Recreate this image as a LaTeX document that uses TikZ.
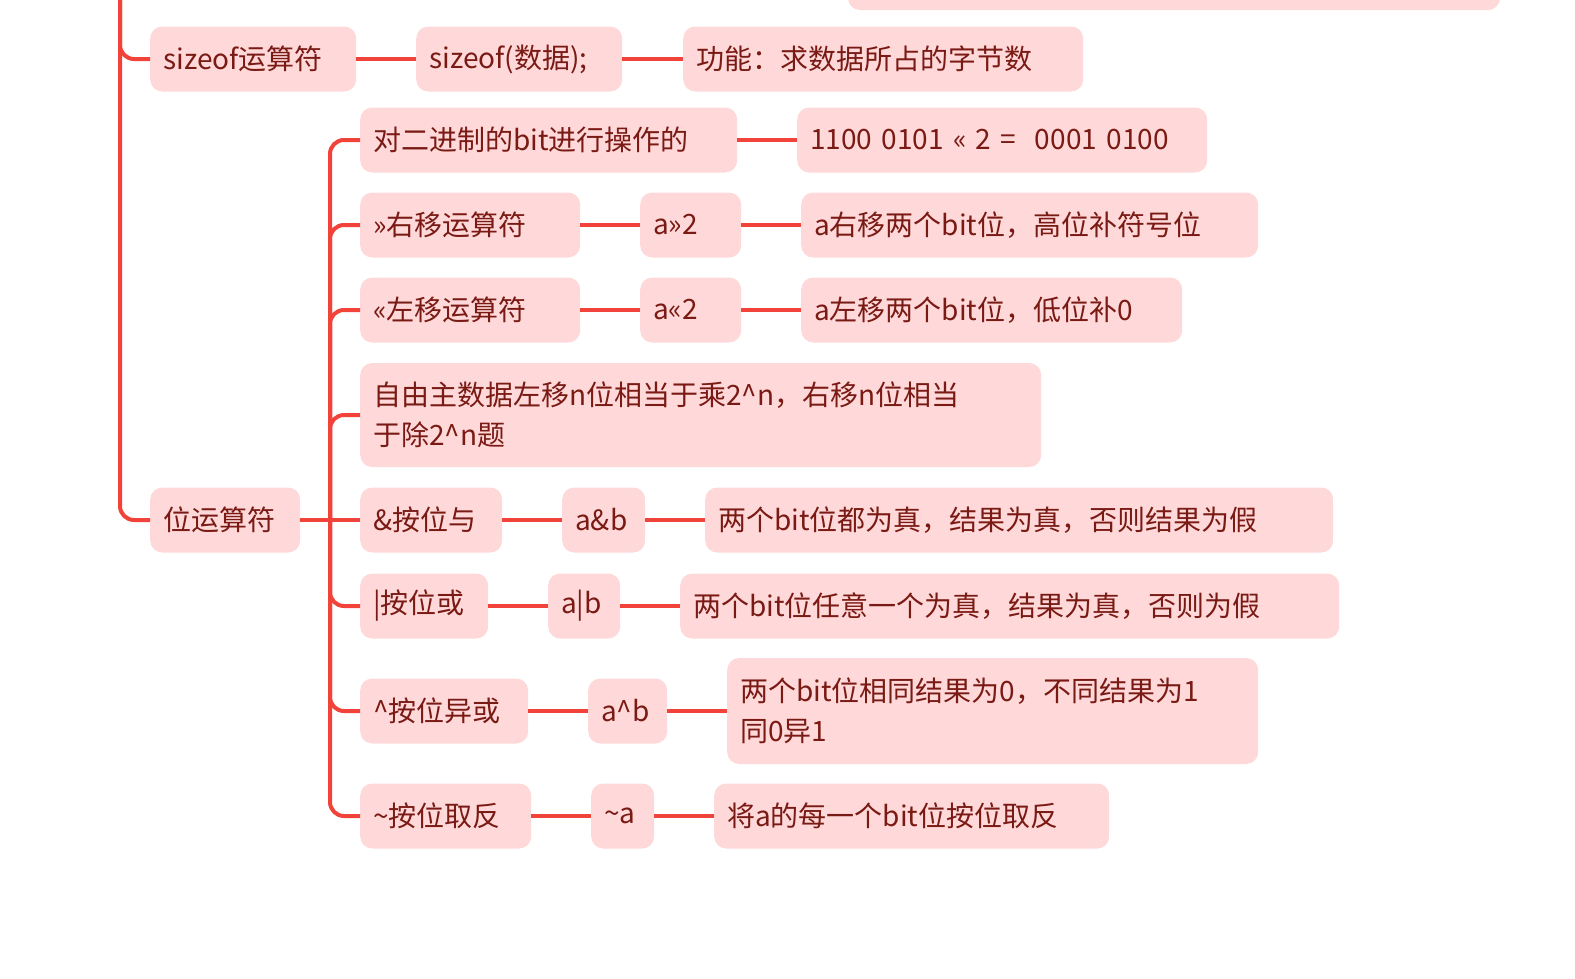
\documentclass[tikz,border=0pt]{standalone}
\usepackage{fontspec}
\setmainfont{Noto Sans CJK SC}
\definecolor{boxfill}{HTML}{FFD9D9}
\definecolor{txt}{HTML}{7A1A14}
\definecolor{ln}{HTML}{F2433B}
\tikzset{
 box/.style={fill=boxfill, rounded corners=12pt, anchor=west, inner xsep=13pt, inner ysep=0pt,
   text=txt, align=left, font=\fontsize{28}{40}\selectfont, minimum height=65pt},
 conn/.style={draw=ln, line width=4pt, rounded corners=14pt}
}
\newcommand{\bx}[5]{\node[box, text width=#3-26pt, minimum height=#4] (#1) at (#2) {#5};}
\begin{document}
\begin{tikzpicture}[x=1pt,y=-1pt]
\useasboundingbox (0,0) rectangle (1575,978);
\fill[boxfill, rounded corners=12pt] (848,-40) rectangle (1500,10);
\bx{sz}{150,59}{206pt}{65pt}{sizeof运算符}
\bx{szd}{416,59}{206pt}{65pt}{sizeof(数据);}
\bx{szf}{683,59}{400pt}{65pt}{功能：求数据所占的字节数}
\bx{bit}{150,520}{150pt}{65pt}{位运算符}
\bx{c1}{360,140}{377pt}{65pt}{对二进制的bit进行操作的}
\bx{c1a}{797,140}{410pt}{65pt}{1100 0101 << 2 =\ \ 0001 0100}
\bx{c2}{360,225}{220pt}{65pt}{>>右移运算符}
\bx{c2a}{640,225}{101pt}{65pt}{a>>2}
\bx{c2b}{801,225}{457pt}{65pt}{a右移两个bit位，高位补符号位}
\bx{c3}{360,310}{220pt}{65pt}{<<左移运算符}
\bx{c3a}{640,310}{101pt}{65pt}{a<<2}
\bx{c3b}{801,310}{381pt}{65pt}{a左移两个bit位，低位补0}
\bx{c4}{360,415}{681pt}{104pt}{自由主数据左移n位相当于乘2\^{}n，右移n位相当\\于除2\^{}n题}
\bx{c5}{360,520}{142pt}{65pt}{\&按位与}
\bx{c5a}{562,520}{83pt}{65pt}{a\&b}
\bx{c5b}{705,520}{628pt}{65pt}{两个bit位都为真，结果为真，否则结果为假}
\bx{c6}{360,606}{128pt}{65pt}{|按位或}
\bx{c6a}{548,606}{72pt}{65pt}{a|b}
\bx{c6b}{680,606}{659pt}{65pt}{两个bit位任意一个为真，结果为真，否则为假}
\bx{c7}{360,711}{168pt}{65pt}{\^{}按位异或}
\bx{c7a}{588,711}{79pt}{65pt}{a\^{}b}
\bx{c7b}{727,711}{531pt}{106pt}{两个bit位相同结果为0，不同结果为1\\同0异1}
\bx{c8}{360,816}{171pt}{65pt}{\textasciitilde 按位取反}
\bx{c8a}{591,816}{63pt}{65pt}{\textasciitilde a}
\bx{c8b}{714,816}{395pt}{65pt}{将a的每一个bit位按位取反}
\coordinate (top) at (120,-5);
\draw[conn] (top) |- (sz.west);
\draw[conn] (top) |- (bit.west);
\draw[conn] (sz) -- (szd); \draw[conn] (szd) -- (szf);
\coordinate (j) at (330,520);
\draw[conn] (bit.east) -- (c5.west);
\foreach \c in {c1,c2,c3,c4,c6,c7,c8} {\draw[conn] (j) |- (\c.west);}
\draw[conn] (c1) -- (c1a);
\draw[conn] (c2) -- (c2a); \draw[conn] (c2a) -- (c2b);
\draw[conn] (c3) -- (c3a); \draw[conn] (c3a) -- (c3b);
\draw[conn] (c5) -- (c5a); \draw[conn] (c5a) -- (c5b);
\draw[conn] (c6) -- (c6a); \draw[conn] (c6a) -- (c6b);
\draw[conn] (c7) -- (c7a); \draw[conn] (c7a) -- (c7b);
\draw[conn] (c8) -- (c8a); \draw[conn] (c8a) -- (c8b);
\end{tikzpicture}
\end{document}
